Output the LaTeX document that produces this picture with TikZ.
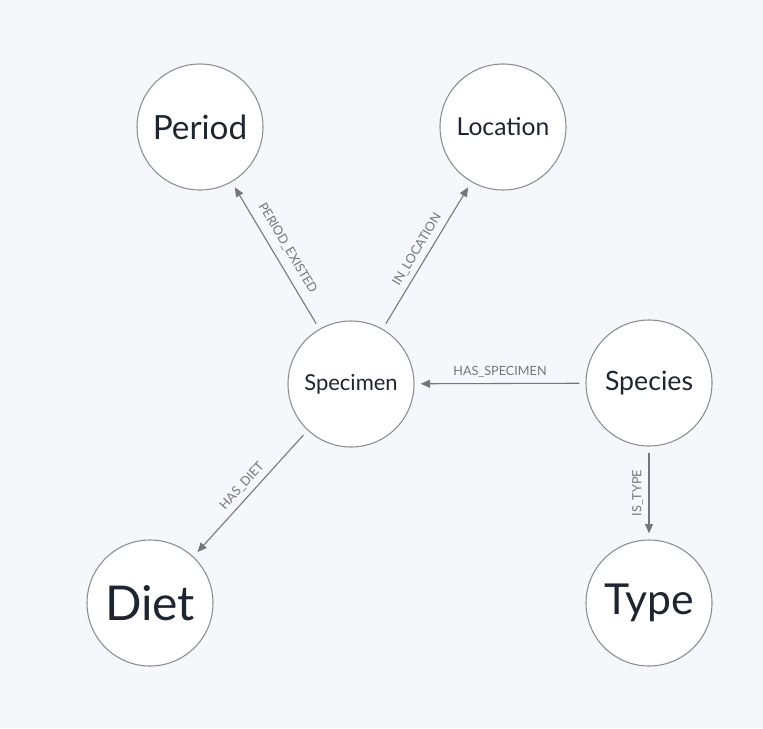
\documentclass[tikz,border=0pt]{standalone}
\usepackage{fontspec}
\setmainfont{Lato}
\usetikzlibrary{arrows.meta}
\definecolor{bg}{HTML}{F5F7FB}
\definecolor{ring}{HTML}{8A8D93}
\definecolor{edgec}{HTML}{72767D}
\definecolor{txt}{HTML}{1F2530}
\begin{document}
\begin{tikzpicture}[x=0.75pt,y=-0.75pt,
  ent/.style={circle,draw=ring,line width=0.8pt,fill=white,minimum size=126*0.75pt,inner sep=0pt,outer sep=5pt,text=txt},
  rel/.style={draw=edgec,line width=0.8pt,-{Triangle[length=7pt,width=6pt]}},
  lbl/.style={font=\fontsize{9.5}{10}\selectfont,text=edgec,sloped,above,midway,inner sep=4pt}]
\fill[bg] (0,0) rectangle (763,728);
\useasboundingbox (0,0) rectangle (763,728);
\node[ent,font=\fontsize{25}{27}\selectfont] (period) at (200,127) {Period};
\node[ent,font=\fontsize{18.5}{20}\selectfont] (location) at (503,127) {Location};
\node[ent,font=\fontsize{16.5}{18}\selectfont] (specimen) at (351,384) {Specimen};
\node[ent,font=\fontsize{20}{22}\selectfont] (species) at (649,383) {Species};
\node[ent,font=\fontsize{36}{38}\selectfont] (diet) at (150,603) {Diet};
\node[ent,font=\fontsize{32}{34}\selectfont] (type) at (649,603) {Type};
\draw[rel] (specimen.120) -- node[lbl,inner sep=6pt] {PERIOD\_EXISTED} (period.-60);
\draw[rel] (specimen.60) -- node[lbl] {IN\_LOCATION} (location.-120);
\draw[rel] (species) -- node[lbl] {HAS\_SPECIMEN} (specimen);
\draw[rel] (specimen.-133) -- node[lbl] {HAS\_DIET} (diet.47);
\draw[rel] (species) -- node[midway,left,rotate=90,anchor=south,font=\fontsize{9.5}{10}\selectfont,text=edgec,inner sep=4pt] {IS\_TYPE} (type);
\end{tikzpicture}
\end{document}
